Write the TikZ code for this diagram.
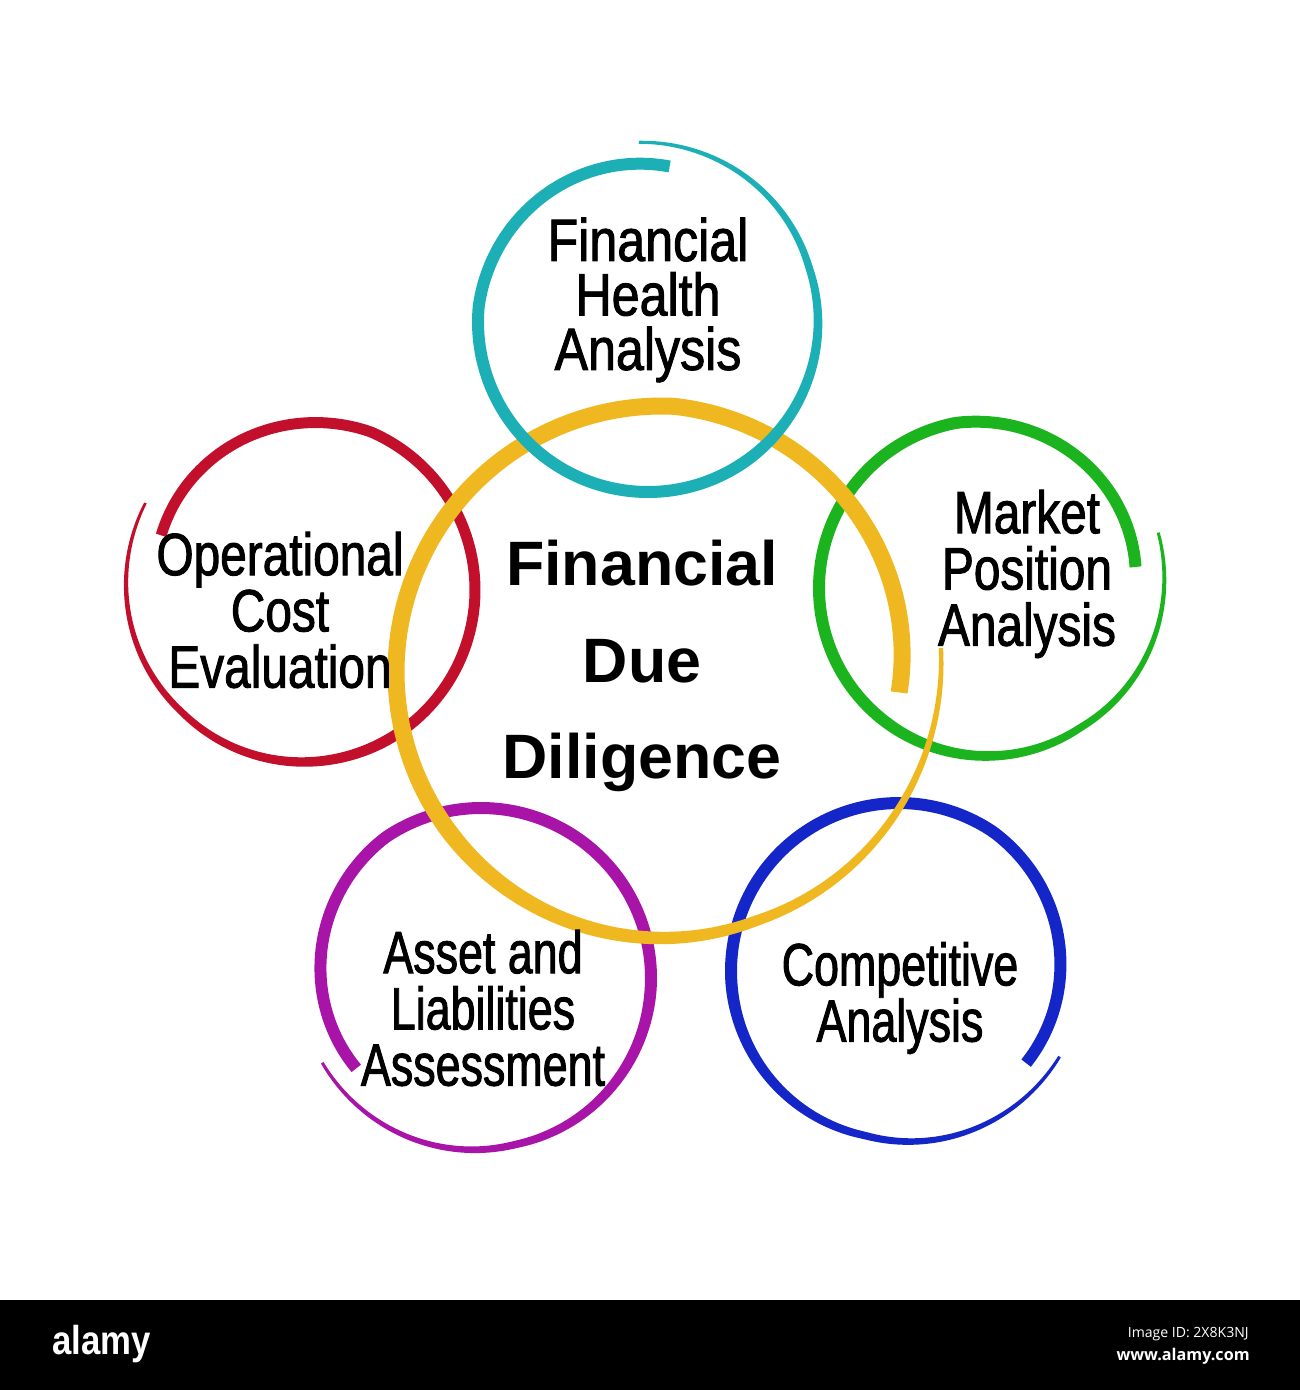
\documentclass[tikz,border=0pt]{standalone}
\usepackage{fontspec}
\setmainfont{Liberation Sans}
\newfontfamily\lblfont[FakeStretch=0.80,FakeBold=1.5]{Liberation Sans}
\newfontfamily\lblnarrow[FakeStretch=0.75,FakeBold=1.5]{Liberation Sans}
\newfontfamily\lblwide[FakeStretch=0.84,FakeBold=1.5]{Liberation Sans}
\newfontfamily\alamyfont[FakeStretch=0.86]{Liberation Sans}
\newfontfamily\idfont{Open Sans}
\definecolor{cyellow}{HTML}{F0B820}
\definecolor{cteal}{HTML}{1CB0B6}
\definecolor{cred}{HTML}{C2102C}
\definecolor{cgreen}{HTML}{1CB41E}
\definecolor{cblue}{HTML}{1426C8}
\definecolor{cpurple}{HTML}{A814A8}
\tikzset{
  declare function={
    brR(\qs,\qa,\qb,\qc)=\qa+(\qb-\qa)*min(1,\qs/0.25)+(\qc-\qb)*max(0,(\qs-0.8)/0.2);
    brW(\qs,\qw)=\qw*(1-0.75*max(0,(\qs-0.6)/0.4));
  },
  lbl/.style={font=\lblfont\fontsize{34pt}{32pt}\selectfont, align=center, inner sep=0pt, text=black},
  lbln/.style={lbl, font=\lblnarrow\fontsize{34pt}{32pt}\selectfont},
  lblw/.style={lbl, font=\lblwide\fontsize{34pt}{31pt}\selectfont},
  ctr/.style={font=\bfseries\fontsize{35.7pt}{55pt}\selectfont, align=center, inner sep=0pt, text=black},
}
% cx cy color a0 sweep r0 rmid rend width
\newcommand\brushring[9]{%
  \fill[#3] plot[variable=\s,domain=0:1,samples=160,smooth]
    ({#1+(brR(\s,#6,#7,#8)+brW(\s,#9)/2)*cos(#4+(#5)*\s)},{#2-(brR(\s,#6,#7,#8)+brW(\s,#9)/2)*sin(#4+(#5)*\s)})
    -- plot[variable=\s,domain=1:0,samples=160,smooth]
    ({#1+(brR(\s,#6,#7,#8)-brW(\s,#9)/2)*cos(#4+(#5)*\s)},{#2-(brR(\s,#6,#7,#8)-brW(\s,#9)/2)*sin(#4+(#5)*\s)})
    -- cycle;
}
\begin{document}
\begin{tikzpicture}[x=0.02cm,y=-0.02cm]
\useasboundingbox (0,0) rectangle (1300,1390);
\fill[white] (0,0) rectangle (1300,1390);
% rings
\brushring{303}{590}{cred}{159}{-368}{152}{172}{180}{11}
\brushring{987}{588}{cgreen}{8}{370}{150}{168}{180}{12}
\brushring{481}{978}{cpurple}{216}{-368}{154}{170}{180}{12}
\brushring{899}{971}{cblue}{-36}{368}{157}{168}{182}{12}
\brushring{662}{672}{cyellow}{-5}{370}{238}{266}{280}{17}
\brushring{648}{322}{cteal}{82}{371}{157}{170}{180}{12}
% labels
\node[ctr] (fdd) at (642,666) {Financial\\Due\\Diligence};
\node[lblw] (fha) at (648,300) {Financial\\Health\\Analysis};
\node[lbl] (oce) at (280,610) {Operational\\Cost\\Evaluation};
\node[lbl] (mpa) at (1027,574) {Market\\Position\\Analysis};
\node[lbln] (ala) at (483,1008) {Asset and\\Liabilities\\Assessment};
\node[lbln] (cpa) at (900,998) {Competitive\\Analysis};
% bottom bar
\fill[black] (0,1300) rectangle (1300,1390);
\node[anchor=base west, inner sep=0pt, text=white, font=\alamyfont\bfseries\fontsize{23pt}{23pt}\selectfont] (alamy) at (52,1354) {alamy};
\node[anchor=base east, inner sep=0pt, text=white, font=\idfont\fontsize{8pt}{8pt}\selectfont] (imgid) at (1249,1337) {Image ID: 2X8K3NJ};
\node[anchor=base east, inner sep=0pt, text=white, font=\idfont\bfseries\fontsize{9.2pt}{9pt}\selectfont] (www) at (1250,1360) {www.alamy.com};
\end{tikzpicture}
\end{document}
